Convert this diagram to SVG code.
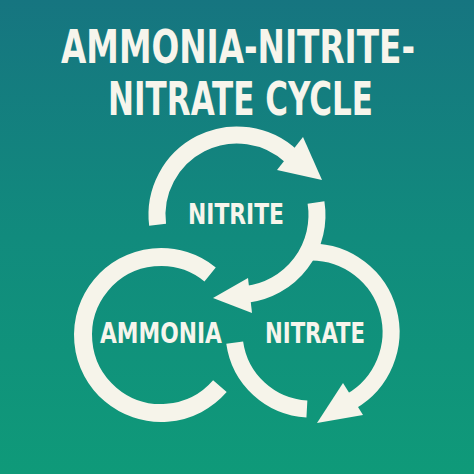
<svg xmlns="http://www.w3.org/2000/svg" width="474" height="474" viewBox="0 0 474 474">
  <defs>
    <linearGradient id="bg" x1="0" y1="0" x2="0" y2="1">
      <stop offset="0" stop-color="#167580"/>
      <stop offset="0.5" stop-color="#118b7d"/>
      <stop offset="1" stop-color="#0f9a79"/>
    </linearGradient>
    <style>
      .title { font-family: "DejaVu Sans Condensed", "DejaVu Sans", sans-serif; font-weight: bold; font-size: 46px; fill: #f7f5ec; text-anchor: middle; }
      .label { font-family: "DejaVu Sans Condensed", "DejaVu Sans", sans-serif; font-weight: bold; font-size: 29px; fill: #f7f5ec; text-anchor: middle; }
      .arc { fill: none; stroke: #f6f4ea; stroke-width: 17; stroke-linecap: butt; }
      .head { fill: #f6f4ea; stroke: none; }
    </style>
  </defs>
  <rect x="0" y="0" width="474" height="474" fill="url(#bg)"/>

  <g id="title">
    <text class="title" transform="translate(238,63) scale(0.79,1)" x="0" y="0" textLength="448" lengthAdjust="spacingAndGlyphs">AMMONIA-NITRITE-</text>
    <text class="title" transform="translate(240.5,115) scale(0.74,1)" x="0" y="0" textLength="358" lengthAdjust="spacingAndGlyphs">NITRATE CYCLE</text>
  </g>

  <g id="connectors">
    <!-- Nitrite circle -->
    <path class="arc" d="M157.6,224.8 A80,80 0 0 1 291.6,156.5"/>
    <polygon class="head" points="277,170 303,137 322,180"/>
    <path class="arc" d="M316,202.5 A80,80 0 0 1 246.8,294.4"/>
    <polygon class="head" points="248,278 252,313 213,298"/>
    <!-- Ammonia circle -->
    <path class="arc" style="stroke-width:18" d="M219.9,386.2 A78,78 0 1 1 210.1,274.4"/>
    <!-- Nitrate circle -->
    <path class="arc" d="M311,252 A80,80 0 0 1 351,401.3"/>
    <polygon class="head" points="343,383 363,415 317,423"/>
    <path class="arc" d="M306.9,409 A77,77 0 0 1 234.7,342.7"/>
  </g>

  <g id="nitrite">
    <text class="label" x="236" y="224" textLength="96" lengthAdjust="spacingAndGlyphs">NITRITE</text>
  </g>
  <g id="ammonia">
    <text class="label" x="161" y="343" textLength="122" lengthAdjust="spacingAndGlyphs">AMMONIA</text>
  </g>
  <g id="nitrate">
    <text class="label" x="315" y="343" textLength="100" lengthAdjust="spacingAndGlyphs">NITRATE</text>
  </g>
</svg>
